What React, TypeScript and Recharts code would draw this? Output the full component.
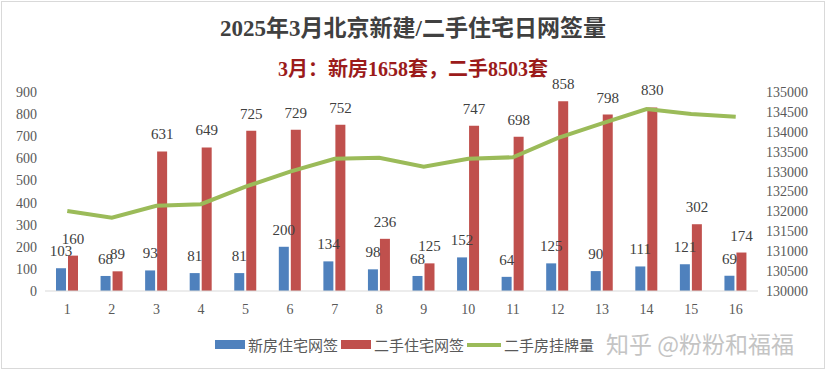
import { ComposedChart, Bar, Line, XAxis, YAxis, LabelList } from 'recharts';

const DAYS = ['1', '2', '3', '4', '5', '6', '7', '8', '9', '10', '11', '12', '13', '14', '15', '16'];
const NEW_HOME = [103, 68, 93, 81, 81, 200, 134, 98, 68, 152, 64, 125, 90, 111, 121, 69];
const RESALE = [160, 89, 631, 649, 725, 729, 752, 236, 125, 747, 698, 858, 798, 830, 302, 174];
const LISTINGS = [
  132010, 131840, 132140, 132180, 132620, 133000, 133320, 133350,
  133120, 133320, 133360, 133840, 134210, 134570, 134450, 134380,
];
const LEFT_TICKS = [0, 100, 200, 300, 400, 500, 600, 700, 800, 900];
const RIGHT_TICKS = [130000, 130500, 131000, 131500, 132000, 132500, 133000, 133500, 134000, 134500, 135000];

const BLUE = '#4F81BD';
const RED = '#C0504D';
const GREEN = '#9BBB59';
const SERIF = '"Liberation Serif", "Times New Roman", serif';
const CJK = '"Noto Sans CJK SC", "Noto Sans", sans-serif';

const data = DAYS.map((d, i) => ({
  day: d,
  newHome: NEW_HOME[i],
  resale: RESALE[i],
  listings: LISTINGS[i],
}));

const tickStyle = { fontSize: 14, fill: '#595959', fontFamily: SERIF };
const labelStyle = { fontSize: 15, fill: '#404040', fontFamily: SERIF };

function LegendItem({ color, label, line }: { color: string; label: string; line?: boolean }) {
  return (
    <div style={{ display: 'flex', alignItems: 'center', marginRight: 3 }}>
      <div
        style={{
          width: line ? 34 : 30,
          height: line ? 4 : 9,
          background: color,
          marginRight: 3,
        }}
      />
      <span style={{ fontSize: 15, color: '#595959', fontFamily: CJK }}>{label}</span>
    </div>
  );
}

export default function App() {
  return (
    <div
      style={{
        position: 'absolute',
        left: 0,
        top: 0,
        width: 826,
        height: 370,
        background: '#fff',
        overflow: 'hidden',
      }}
    >
      <div
        style={{
          position: 'absolute',
          left: 1,
          top: 1,
          width: 822,
          height: 366,
          border: '1px solid #D9D9D9',
        }}
      />
      <div
        style={{
          position: 'absolute',
          left: 0,
          top: 9,
          width: 826,
          textAlign: 'center',
          fontSize: 23,
          fontWeight: 'bold',
          color: '#404040',
          fontFamily: `"Liberation Serif", ${CJK}`,
        }}
      >
        2025年3月北京新建/二手住宅日网签量
      </div>
      <div
        style={{
          position: 'absolute',
          left: 0,
          top: 53,
          width: 826,
          textAlign: 'center',
          fontSize: 20,
          fontWeight: 'bold',
          color: '#9B1B1B',
          fontFamily: `"Liberation Serif", ${CJK}`,
        }}
      >
        3月：新房1658套，二手8503套
      </div>

      <div style={{ position: 'absolute', left: 0, top: 0 }}>
        <ComposedChart
          width={826}
          height={370}
          data={data}
          margin={{ top: 92, right: 0, bottom: 49, left: 0 }}
          barSize={10}
          barGap={2}
        >
          <XAxis
            dataKey="day"
            tick={tickStyle}
            tickLine={false}
            axisLine={{ stroke: '#D9D9D9' }}
            height={30}
            interval={0}
            tickMargin={7}
          />
          <YAxis
            yAxisId="left"
            domain={[0, 900]}
            ticks={LEFT_TICKS}
            interval={0}
            tick={tickStyle}
            tickLine={false}
            axisLine={false}
            width={45}
          />
          <YAxis
            yAxisId="right"
            orientation="right"
            domain={[130000, 135000]}
            ticks={RIGHT_TICKS}
            interval={0}
            tick={tickStyle}
            tickLine={false}
            axisLine={false}
            width={68}
          />
          <Bar yAxisId="left" dataKey="newHome" fill={BLUE} isAnimationActive={false}>
            <LabelList dataKey="newHome" position="top" offset={12} style={labelStyle} />
          </Bar>
          <Bar yAxisId="left" dataKey="resale" fill={RED} isAnimationActive={false}>
            <LabelList dataKey="resale" position="top" offset={12} style={labelStyle} />
          </Bar>
          <Line
            yAxisId="right"
            dataKey="listings"
            stroke={GREEN}
            strokeWidth={4}
            dot={false}
            type="linear"
            isAnimationActive={false}
          />
        </ComposedChart>
      </div>

      <div
        style={{
          position: 'absolute',
          left: 215,
          top: 334,
          display: 'flex',
          alignItems: 'center',
        }}
      >
        <LegendItem color={BLUE} label="新房住宅网签" />
        <LegendItem color={RED} label="二手住宅网签" />
        <LegendItem color={GREEN} label="二手房挂牌量" line />
      </div>
      <div
        style={{
          position: 'absolute',
          left: 606,
          top: 326,
          fontSize: 23,
          color: '#C4C4C4',
          fontFamily: CJK,
          whiteSpace: 'nowrap',
        }}
      >
        知乎 @粉粉和福福
      </div>
    </div>
  );
}
